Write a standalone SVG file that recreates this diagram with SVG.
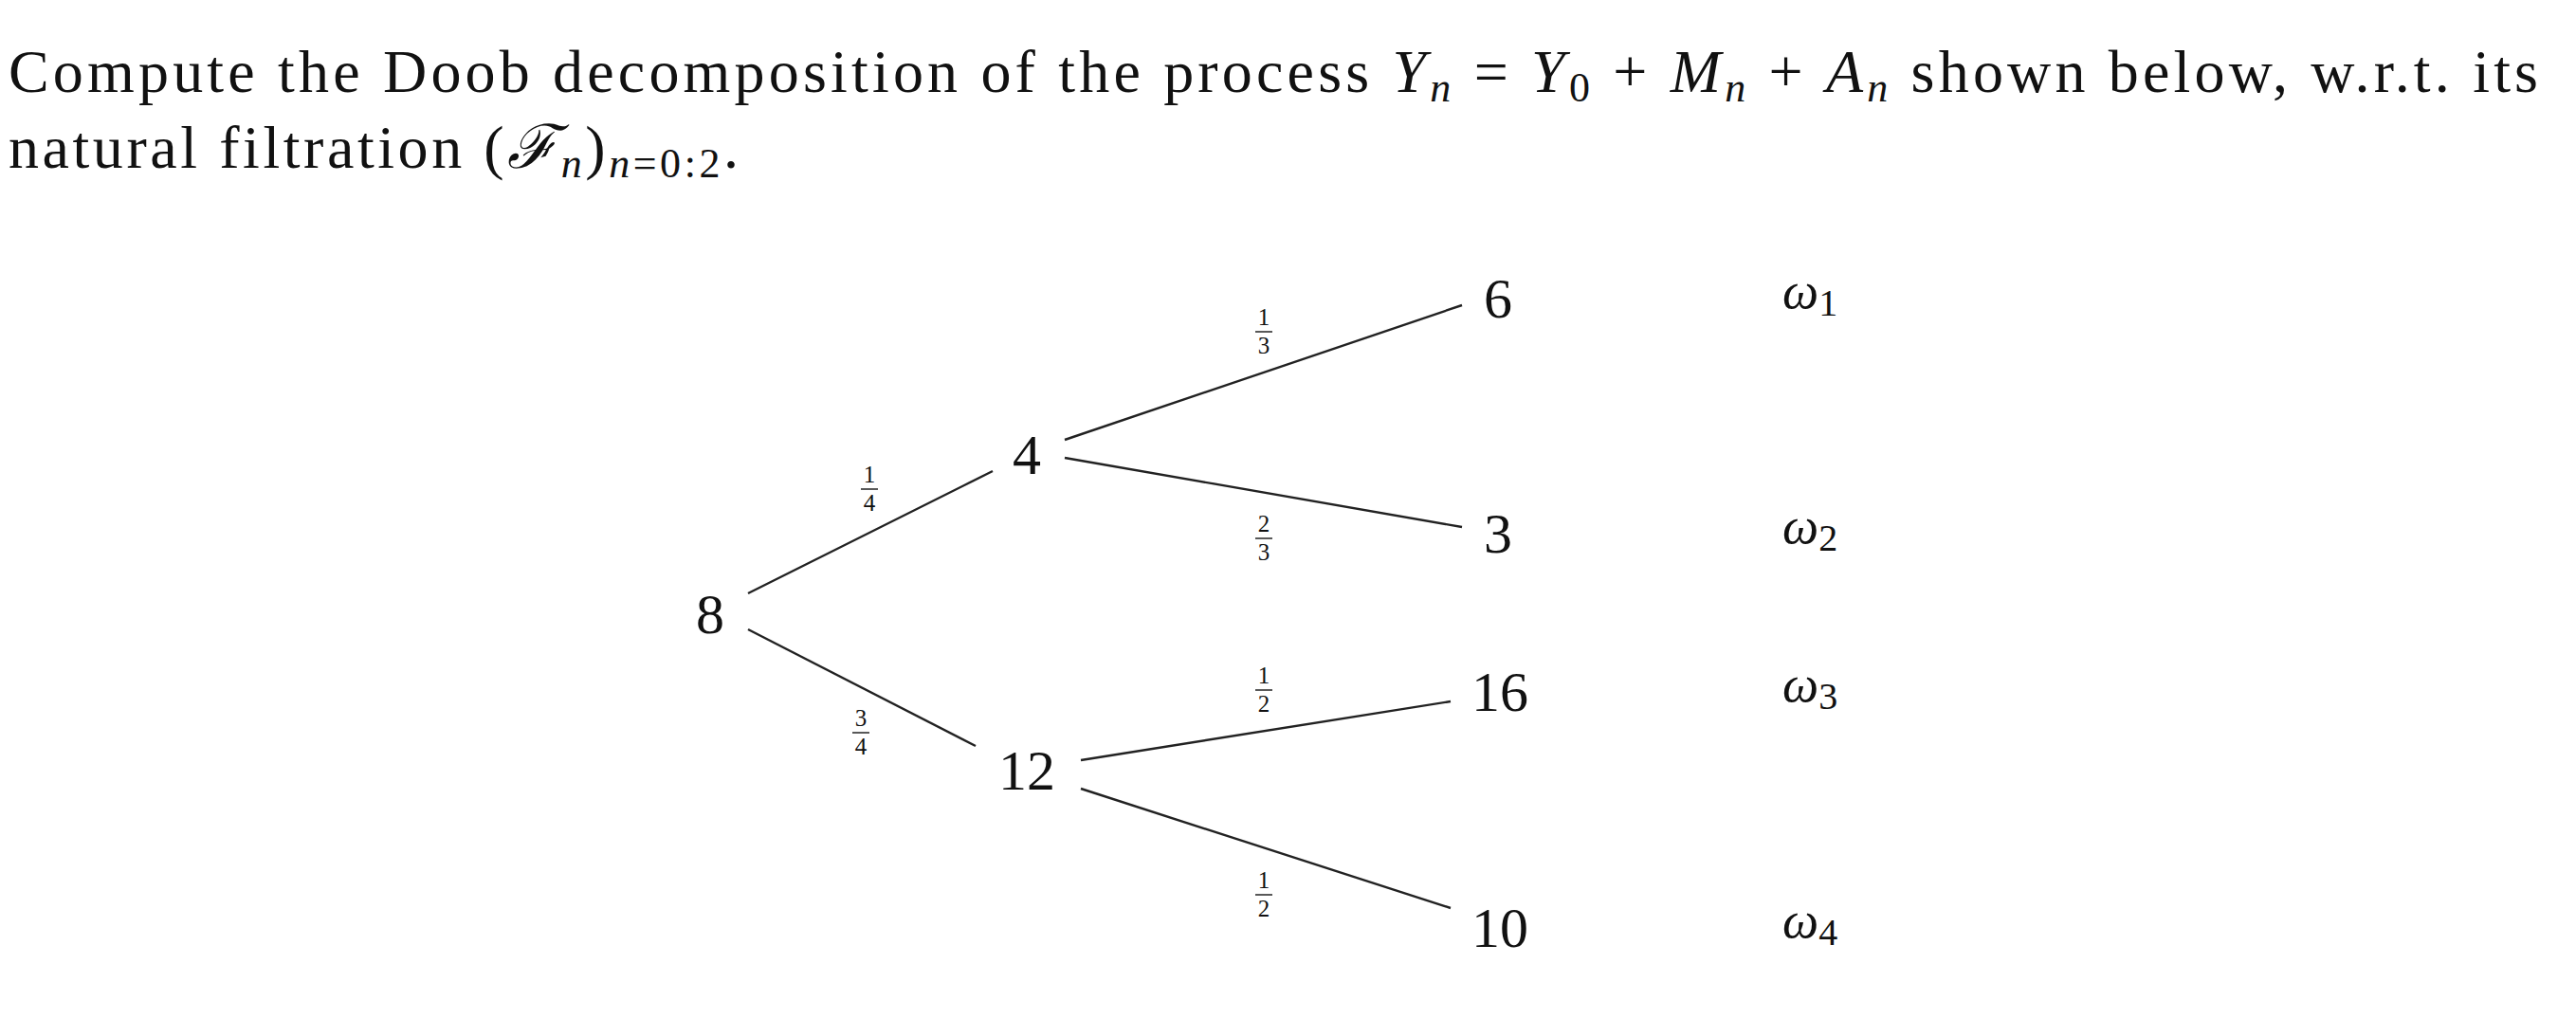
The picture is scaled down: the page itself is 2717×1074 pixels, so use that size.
<svg xmlns="http://www.w3.org/2000/svg" width="2717" height="1074" viewBox="0 0 2717 1074">
<style>
text{font-family:"Liberation Serif","DejaVu Serif",serif;fill:#111}
.h{font-size:64px}
.n{font-size:60px;text-anchor:middle}
.f{font-size:25px;text-anchor:middle}
.w{font-size:54px;font-style:italic}
line{stroke:#222;stroke-width:2.4}
</style>
<rect width="2717" height="1074" fill="#fff"/>
<text class="h" x="9" y="97" textLength="2668" lengthAdjust="spacing">Compute the Doob decomposition of the process <tspan font-style="italic">Y</tspan><tspan font-style="italic" font-size="44" dy="10">n</tspan><tspan dy="-10"> = </tspan><tspan font-style="italic">Y</tspan><tspan font-size="44" dy="10">0</tspan><tspan dy="-10"> + </tspan><tspan font-style="italic">M</tspan><tspan font-style="italic" font-size="44" dy="10">n</tspan><tspan dy="-10"> + </tspan><tspan font-style="italic">A</tspan><tspan font-style="italic" font-size="44" dy="10">n</tspan><tspan dy="-10"> shown below, w.r.t.  its</tspan></text>
<text class="h" x="9" y="177" textLength="770" lengthAdjust="spacing">natural filtration (<tspan font-style="italic">ℱ</tspan><tspan font-style="italic" font-size="44" dy="10">n</tspan><tspan dy="-10">)</tspan><tspan font-size="44" dy="10"><tspan font-style="italic">n</tspan>=0:2</tspan><tspan dy="-10">.</tspan></text>
<g id="connectors">
<line x1="789" y1="626" x2="1047" y2="497"/>
<line x1="789" y1="664" x2="1029" y2="787"/>
<line x1="1123" y1="464" x2="1542" y2="322"/>
<line x1="1123" y1="483" x2="1542" y2="556"/>
<line x1="1140" y1="802" x2="1530" y2="740"/>
<line x1="1140" y1="832" x2="1530" y2="958"/>
</g>
<g id="labels">
<g id="f1"><text class="f" x="917" y="509">1</text><line x1="908" y1="516" x2="926" y2="516" style="stroke-width:1.5"/><text class="f" x="917" y="539">4</text></g>
<g id="f2"><text class="f" x="908" y="766">3</text><line x1="899" y1="773" x2="917" y2="773" style="stroke-width:1.5"/><text class="f" x="908" y="796">4</text></g>
<g id="f3"><text class="f" x="1333" y="343">1</text><line x1="1324" y1="350" x2="1342" y2="350" style="stroke-width:1.5"/><text class="f" x="1333" y="373">3</text></g>
<g id="f4"><text class="f" x="1333" y="561">2</text><line x1="1324" y1="568" x2="1342" y2="568" style="stroke-width:1.5"/><text class="f" x="1333" y="591">3</text></g>
<g id="f5"><text class="f" x="1333" y="721">1</text><line x1="1324" y1="728" x2="1342" y2="728" style="stroke-width:1.5"/><text class="f" x="1333" y="751">2</text></g>
<g id="f6"><text class="f" x="1333" y="937">1</text><line x1="1324" y1="944" x2="1342" y2="944" style="stroke-width:1.5"/><text class="f" x="1333" y="967">2</text></g>
</g>
<g id="n8"><text class="n" x="749" y="668">8</text></g>
<g id="n4"><text class="n" x="1083" y="500">4</text></g>
<g id="n12"><text class="n" x="1083" y="833">12</text></g>
<g id="n6"><text class="n" x="1580" y="335">6</text></g>
<g id="n3"><text class="n" x="1580" y="583">3</text></g>
<g id="n16"><text class="n" x="1582" y="750">16</text></g>
<g id="n10"><text class="n" x="1582" y="999">10</text></g>
<g id="w1"><text class="w" x="1880" y="325">ω<tspan font-style="normal" font-size="40" dy="8">1</tspan></text></g>
<g id="w2"><text class="w" x="1880" y="573">ω<tspan font-style="normal" font-size="40" dy="8">2</tspan></text></g>
<g id="w3"><text class="w" x="1880" y="740">ω<tspan font-style="normal" font-size="40" dy="8">3</tspan></text></g>
<g id="w4"><text class="w" x="1880" y="989">ω<tspan font-style="normal" font-size="40" dy="8">4</tspan></text></g>
</svg>
